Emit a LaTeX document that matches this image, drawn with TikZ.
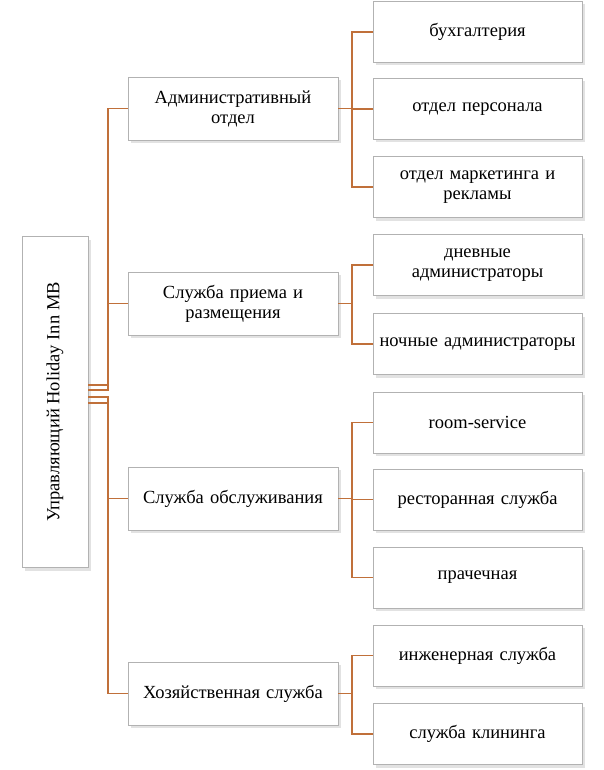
\documentclass[tikz,border=0pt]{standalone}
\usepackage{fontspec}
\setmainfont{Liberation Serif}
\usetikzlibrary{shadows}
\definecolor{linkc}{HTML}{C0703A}
\begin{document}
\begin{tikzpicture}[x=1pt, y=-1pt, font=\fontsize{18.5}{20}\selectfont]
	\tikzstyle{unit} = [rectangle, draw=gray!60, fill=white, text centered, inner sep=1pt, drop shadow={shadow xshift=3pt, shadow yshift=-3pt, fill=gray!45}]
	\tikzstyle{dept} = [unit, minimum width=210pt, minimum height=63pt, text width=206pt]
	\tikzstyle{sub} = [unit, minimum width=209pt, minimum height=61pt, text width=207pt]
	\tikzstyle{link} = [draw=linkc, line width=1.3pt]

	\useasboundingbox (0,0) rectangle (603,770);

	% Root
	\node (root) [unit, minimum width=331pt, minimum height=66pt, rotate=90] at (55,402) {Управляющий Holiday Inn MB};

	% Level 1 nodes
	\node (adm) [dept] at (233,108.5) {Административный\\отдел};
	\node (rec) [dept] at (233,303.5) {Служба приема и\\размещения};
	\node (srv) [dept] at (233,498.5) {Служба обслуживания};
	\node (hk) [dept] at (233,693.5) {Хозяйственная служба};

	% Level 2 nodes
	\node (acc) [sub] at (477.5,32) {бухгалтерия};
	\node (hr) [sub] at (477.5,109) {отдел персонала};
	\node (mkt) [sub] at (477.5,187) {отдел маркетинга и\\рекламы};
	\node (day) [sub] at (477.5,265) {дневные\\администраторы};
	\node (night) [sub] at (477.5,344) {ночные администраторы};
	\node (room) [sub] at (477.5,422.5) {room-service};
	\node (rest) [sub] at (477.5,499.5) {ресторанная служба};
	\node (laun) [sub] at (477.5,577.5) {прачечная};
	\node (eng) [sub] at (477.5,655.5) {инженерная служба};
	\node (cln) [sub] at (477.5,734) {служба клининга};

	% Arrows
	\foreach \d/\yy in {adm/385, rec/390, srv/397, hk/403} {
		\draw [link] (root.south |- 0,\yy) -| (108,\yy) |- (\d.west);
	}
	\foreach \d/\s in {adm/acc, adm/hr, adm/mkt, rec/day, rec/night, srv/room, srv/rest, srv/laun, hk/eng, hk/cln} {
		\draw [link] (\d.east) -- (352,0 |- \d.east) |- (\s.west);
	}
\end{tikzpicture}
\end{document}
